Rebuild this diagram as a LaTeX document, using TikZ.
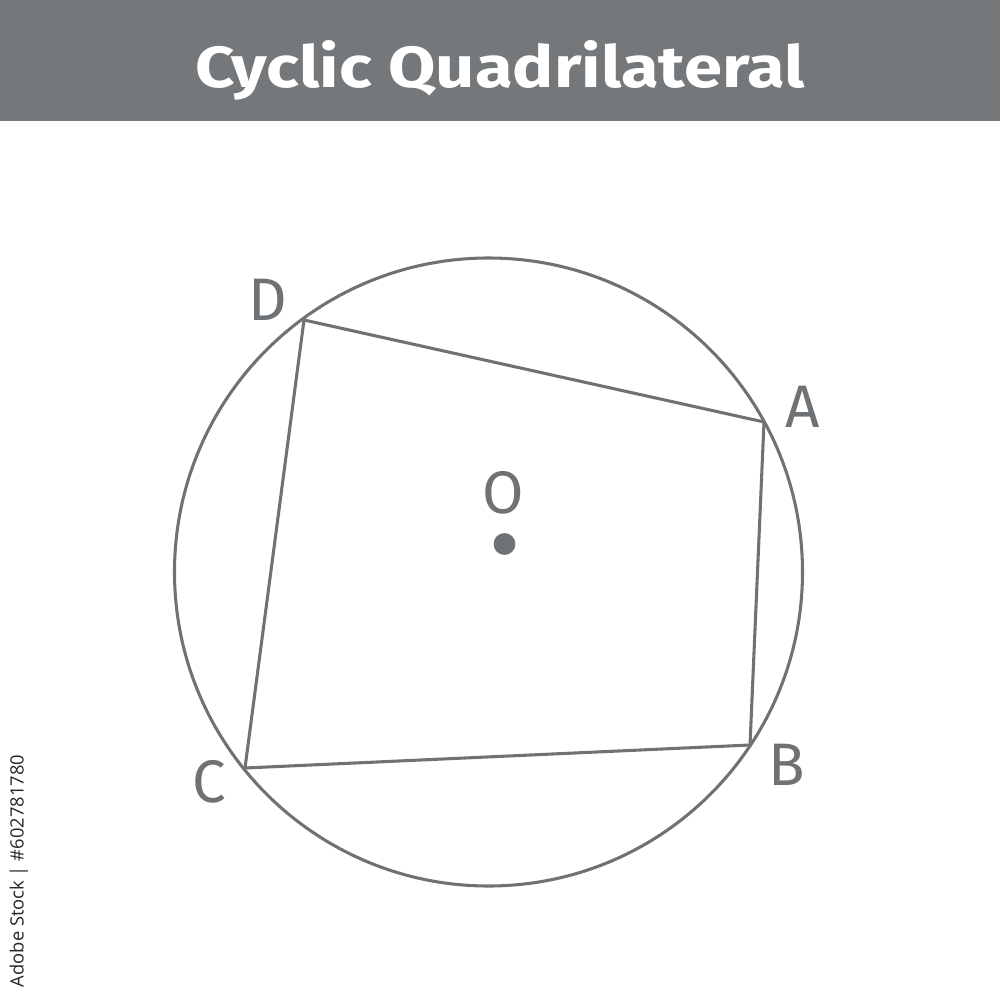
\documentclass[tikz,border=0pt]{standalone}
\usepackage{fontspec}
\setmainfont{Fira Sans}
\newfontfamily\wmfont{Open Sans}
\usepackage{graphicx}
\definecolor{hdr}{HTML}{75787A}
\definecolor{ink}{HTML}{6F7274}
\begin{document}
\begin{tikzpicture}[x=0.75pt,y=-0.75pt,
  geo/.style={draw=ink,line width=2.3pt},
  lbl/.style={anchor=base,text=ink,inner sep=0pt,font=\fontsize{45pt}{45pt}\selectfont}]
\useasboundingbox (0,0) rectangle (1000,993);
\fill[white] (0,0) rectangle (1000,993);
\fill[hdr] (0,0) rectangle (1000,121);
\node[anchor=base,inner sep=0pt,text=white] (title) at (500,87)
  {\resizebox{456.75pt}{35.25pt}{\bfseries Cyclic Quadrilateral}};
% circle
\coordinate (ctr) at (488.5,572);
\node[circle,geo,minimum size=471pt,inner sep=0pt] (circ) at (ctr) {};
\coordinate (D) at (304,320);
\coordinate (A) at (764,422);
\coordinate (B) at (750,745);
\coordinate (C) at (245,768);
\draw[geo,line join=miter] (D) -- (A) -- (B) -- (C) -- cycle;
\node[lbl] (lD) at (268,320) {D};
\node[lbl] (lA) at (803,427) {A};
\node[lbl] (lB) at (787,785) {B};
\node[lbl] (lC) at (209,802) {C};
\node[lbl] (lO) at (503,513) {O};
\fill[ink] (504.5,544) circle (8.2pt);
\node[rotate=90,inner sep=0pt,text=black!85] (wm) at (19,871)
  {\resizebox{174pt}{!}{\wmfont Adobe Stock | \#602781780}};
\end{tikzpicture}
\end{document}
